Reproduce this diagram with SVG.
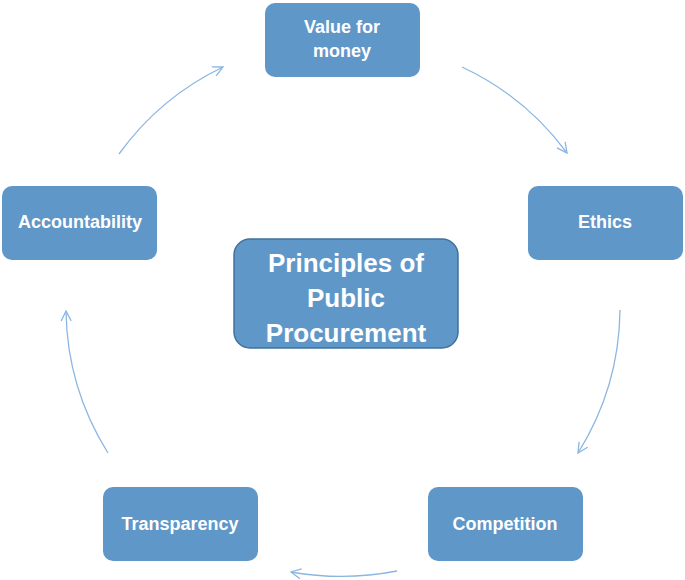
<svg xmlns="http://www.w3.org/2000/svg" width="685" height="580" viewBox="0 0 685 580">
<defs>
<style>
.box{fill:#6097c9;}
.center{fill:#6097c9;stroke:#41719c;stroke-width:1.5;}
.lbl{font-family:"Liberation Sans",Arial,sans-serif;font-weight:bold;font-size:18px;fill:#ffffff;text-anchor:middle;}
.big{font-family:"Liberation Sans",Arial,sans-serif;font-weight:bold;font-size:26px;fill:#ffffff;text-anchor:middle;}
.arc{fill:none;stroke:#8cb6e2;stroke-width:1.3;marker-end:url(#ah);}
</style>
<marker id="ah" viewBox="0 0 12 12" refX="11" refY="6" markerWidth="12" markerHeight="12" markerUnits="userSpaceOnUse" orient="auto">
<path d="M1,1 L11,6 L1,11" fill="none" stroke="#8cb6e2" stroke-width="1.3"/>
</marker>
</defs>
<rect width="685" height="580" fill="#ffffff"/>
<g id="connectors">
<path class="arc" d="M462,67 A275,275 0 0 1 567,153"/>
<path class="arc" d="M620,310 A275,275 0 0 1 578,453"/>
<path class="arc" d="M397,571 A290,290 0 0 1 291,572"/>
<path class="arc" d="M108,453 A275,275 0 0 1 66,311"/>
<path class="arc" d="M119,154 A275,275 0 0 1 223,67"/>
</g>
<g id="center">
<rect class="center" x="234" y="239" width="224" height="109" rx="16"/>
<text class="big" x="346" y="272">Principles of</text>
<text class="big" x="346" y="307">Public</text>
<text class="big" x="346" y="342">Procurement</text>
</g>
<g id="value">
<rect class="box" x="265" y="3" width="155" height="74" rx="10"/>
<text class="lbl" x="342" y="33">Value for</text>
<text class="lbl" x="342" y="57">money</text>
</g>
<g id="ethics">
<rect class="box" x="528" y="186" width="155" height="74" rx="10"/>
<text class="lbl" x="605" y="228">Ethics</text>
</g>
<g id="competition">
<rect class="box" x="428" y="487" width="155" height="74" rx="10"/>
<text class="lbl" x="505" y="530">Competition</text>
</g>
<g id="transparency">
<rect class="box" x="103" y="487" width="155" height="74" rx="10"/>
<text class="lbl" x="180" y="530">Transparency</text>
</g>
<g id="accountability">
<rect class="box" x="2" y="186" width="155" height="74" rx="10"/>
<text class="lbl" x="80" y="228">Accountability</text>
</g>
</svg>
